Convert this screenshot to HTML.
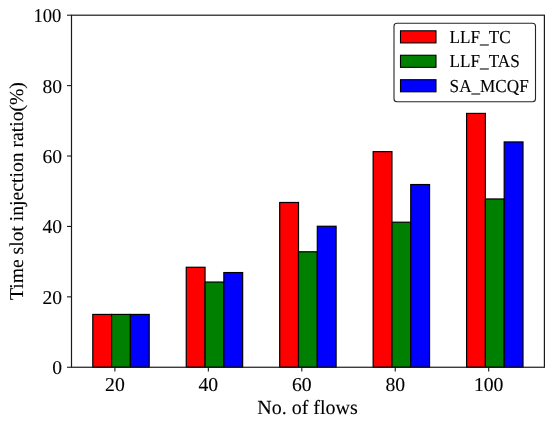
<!DOCTYPE html><html><head><meta charset="utf-8"><title>chart</title><style>html,body{margin:0;padding:0;background:#fff}svg{display:block}text{text-rendering:geometricPrecision;stroke:#000;stroke-width:0.1px;font-family:"Liberation Serif","DejaVu Serif",serif;fill:#000}</style></head><body>
<svg width="550" height="422" viewBox="0 0 550 422">
<rect width="550" height="422" fill="#fff"/>
<rect x="92.80" y="314.44" width="18.80" height="52.81" fill="#ff0000" stroke="#000" stroke-width="1.2"/>
<rect x="111.60" y="314.44" width="18.80" height="52.81" fill="#008000" stroke="#000" stroke-width="1.2"/>
<rect x="130.40" y="314.44" width="18.80" height="52.81" fill="#0000ff" stroke="#000" stroke-width="1.2"/>
<rect x="186.25" y="267.27" width="18.80" height="99.98" fill="#ff0000" stroke="#000" stroke-width="1.2"/>
<rect x="205.05" y="282.05" width="18.80" height="85.20" fill="#008000" stroke="#000" stroke-width="1.2"/>
<rect x="223.85" y="272.55" width="18.80" height="94.70" fill="#0000ff" stroke="#000" stroke-width="1.2"/>
<rect x="279.70" y="202.49" width="18.80" height="164.76" fill="#ff0000" stroke="#000" stroke-width="1.2"/>
<rect x="298.50" y="251.78" width="18.80" height="115.47" fill="#008000" stroke="#000" stroke-width="1.2"/>
<rect x="317.30" y="226.25" width="18.80" height="141.00" fill="#0000ff" stroke="#000" stroke-width="1.2"/>
<rect x="373.15" y="151.62" width="18.80" height="215.63" fill="#ff0000" stroke="#000" stroke-width="1.2"/>
<rect x="391.95" y="222.21" width="18.80" height="145.04" fill="#008000" stroke="#000" stroke-width="1.2"/>
<rect x="410.75" y="184.54" width="18.80" height="182.71" fill="#0000ff" stroke="#000" stroke-width="1.2"/>
<rect x="466.60" y="113.42" width="18.80" height="253.83" fill="#ff0000" stroke="#000" stroke-width="1.2"/>
<rect x="485.40" y="198.97" width="18.80" height="168.28" fill="#008000" stroke="#000" stroke-width="1.2"/>
<rect x="504.20" y="141.94" width="18.80" height="225.31" fill="#0000ff" stroke="#000" stroke-width="1.2"/>
<rect x="71.5" y="15.2" width="472.9" height="352.05" fill="none" stroke="#1a1a1a" stroke-width="1.2"/>
<line x1="114.90" y1="367.25" x2="114.90" y2="371.55" stroke="#1a1a1a" stroke-width="1.1"/>
<text x="114.90" y="390.7" font-size="19.7" text-anchor="middle">20</text>
<line x1="208.35" y1="367.25" x2="208.35" y2="371.55" stroke="#1a1a1a" stroke-width="1.1"/>
<text x="208.35" y="390.7" font-size="19.7" text-anchor="middle">40</text>
<line x1="301.80" y1="367.25" x2="301.80" y2="371.55" stroke="#1a1a1a" stroke-width="1.1"/>
<text x="301.80" y="390.7" font-size="19.7" text-anchor="middle">60</text>
<line x1="395.25" y1="367.25" x2="395.25" y2="371.55" stroke="#1a1a1a" stroke-width="1.1"/>
<text x="395.25" y="390.7" font-size="19.7" text-anchor="middle">80</text>
<line x1="488.70" y1="367.25" x2="488.70" y2="371.55" stroke="#1a1a1a" stroke-width="1.1"/>
<text x="488.70" y="390.7" font-size="19.7" text-anchor="middle">100</text>
<line x1="71.5" y1="367.25" x2="67.0" y2="367.25" stroke="#1a1a1a" stroke-width="1.1"/>
<text transform="translate(62.0,374.15) scale(1,1)" font-size="19.6" text-anchor="end">0</text>
<line x1="71.5" y1="296.84" x2="67.0" y2="296.84" stroke="#1a1a1a" stroke-width="1.1"/>
<text transform="translate(62.0,303.74) scale(1,1)" font-size="19.6" text-anchor="end">20</text>
<line x1="71.5" y1="226.43" x2="67.0" y2="226.43" stroke="#1a1a1a" stroke-width="1.1"/>
<text transform="translate(62.0,233.33) scale(1,1)" font-size="19.6" text-anchor="end">40</text>
<line x1="71.5" y1="156.02" x2="67.0" y2="156.02" stroke="#1a1a1a" stroke-width="1.1"/>
<text transform="translate(62.0,162.92) scale(1,1)" font-size="19.6" text-anchor="end">60</text>
<line x1="71.5" y1="85.61" x2="67.0" y2="85.61" stroke="#1a1a1a" stroke-width="1.1"/>
<text transform="translate(62.0,92.51) scale(1,1)" font-size="19.6" text-anchor="end">80</text>
<line x1="71.5" y1="15.20" x2="67.0" y2="15.20" stroke="#1a1a1a" stroke-width="1.1"/>
<text transform="translate(61.4,22.10) scale(0.95,1)" font-size="19.6" text-anchor="end">100</text>
<text x="307.5" y="414" font-size="20" text-anchor="middle">No. of flows</text>
<text transform="translate(23.0,191.1) rotate(-90)" font-size="19.65" text-anchor="middle">Time slot injection ratio(%)</text>
<rect x="394" y="23.3" width="141.5" height="78.5" rx="3" ry="3" fill="#fff" stroke="#262626" stroke-width="1.1"/>
<rect x="400.5" y="30.80" width="35.5" height="12.1" fill="#ff0000" stroke="#000" stroke-width="1.1"/>
<text transform="translate(449.6,42.80) scale(0.938,1)" font-size="18.3">LLF_TC</text>
<rect x="400.5" y="55.25" width="35.5" height="12.1" fill="#008000" stroke="#000" stroke-width="1.1"/>
<text transform="translate(449.6,67.25) scale(0.938,1)" font-size="18.3">LLF_TAS</text>
<rect x="400.5" y="79.70" width="35.5" height="12.1" fill="#0000ff" stroke="#000" stroke-width="1.1"/>
<text transform="translate(449.6,91.70) scale(0.938,1)" font-size="18.3">SA_MCQF</text>
</svg></body></html>
